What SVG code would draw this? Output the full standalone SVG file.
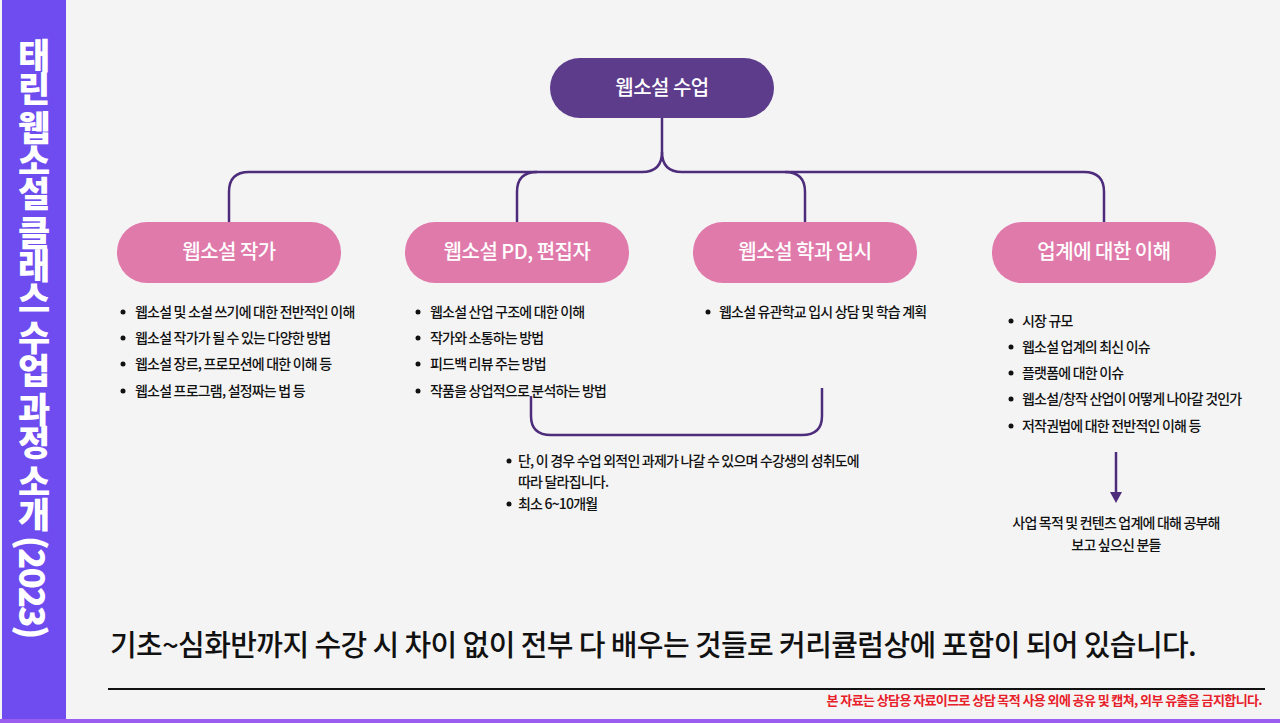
<svg xmlns="http://www.w3.org/2000/svg" width="1280" height="723" viewBox="0 0 1280 723">
<defs>
<style>
text{font-family:"Noto Sans CJK KR","Noto Sans",sans-serif;}
.b{font-size:14px;fill:#111;letter-spacing:-0.8px;font-weight:500;}
.d{fill:#111;}
.nt{font-size:20px;fill:#fff;text-anchor:middle;letter-spacing:-0.5px;font-weight:500;}
.pill{fill:#E07AAB;}
.c{fill:none;stroke:#4E2C7C;stroke-width:2.5;}
</style>
</defs>
<rect width="1280" height="723" fill="#F4F4F4"/>
<g id="sidebar">
<rect x="2" y="0" width="64" height="723" fill="#6E4CF0"/>
<text x="34" y="38" style="writing-mode:vertical-rl;text-orientation:mixed;font-size:35px;font-weight:900;fill:#fff;" letter-spacing="-2">태린 웹소설 클래스 수업 과정 소개 (2023)</text>
</g>
<rect x="0" y="719" width="1280" height="4" fill="#9B5CF0"/>
<g id="connectors">
<path class="c" d="M662,118 V152 Q662,172 642,172 H249 Q229,172 229,192 V222"/>
<path class="c" d="M662,152 Q662,172 682,172 H1084 Q1104,172 1104,192 V222"/>
<path class="c" d="M537,172 Q517,172 517,192 V222"/>
<path class="c" d="M785,172 Q805,172 805,192 V222"/>
<path class="c" d="M531,396 V416 Q531,435 551,435 H802 Q822,435 822,416 V388"/>
<line x1="1116" y1="452" x2="1116" y2="493" stroke="#4E2C7C" stroke-width="2.5"/>
<polygon points="1110,492 1122,492 1116,503" fill="#4E2C7C"/>
</g>
<g id="root">
<rect x="550" y="58" width="224" height="60" rx="30" fill="#5E3C8C"/>
<text class="nt" x="662" y="95">웹소설 수업</text>
</g>
<g id="n1"><rect class="pill" x="117" y="222" width="224" height="61" rx="30"/><text class="nt" x="229" y="259">웹소설 작가</text></g>
<g id="n2"><rect class="pill" x="405" y="222" width="224" height="61" rx="30"/><text class="nt" x="517" y="259">웹소설 PD, 편집자</text></g>
<g id="n3"><rect class="pill" x="693" y="222" width="224" height="61" rx="30"/><text class="nt" x="805" y="259">웹소설 학과 입시</text></g>
<g id="n4"><rect class="pill" x="992" y="222" width="224" height="61" rx="30"/><text class="nt" x="1104" y="259">업계에 대한 이해</text></g>
<g id="list1">
<circle class="d" cx="123" cy="312" r="2.5"/><text class="b" x="135" y="317">웹소설 및 소설 쓰기에 대한 전반적인 이해</text>
<circle class="d" cx="123" cy="338" r="2.5"/><text class="b" x="135" y="343">웹소설 작가가 될 수 있는 다양한 방법</text>
<circle class="d" cx="123" cy="364" r="2.5"/><text class="b" x="135" y="369">웹소설 장르, 프로모션에 대한 이해 등</text>
<circle class="d" cx="123" cy="391" r="2.5"/><text class="b" x="135" y="396">웹소설 프로그램, 설정짜는 법 등</text>
</g>
<g id="list2">
<circle class="d" cx="418" cy="312" r="2.5"/><text class="b" x="430" y="317">웹소설 산업 구조에 대한 이해</text>
<circle class="d" cx="418" cy="338" r="2.5"/><text class="b" x="430" y="343">작가와 소통하는 방법</text>
<circle class="d" cx="418" cy="364" r="2.5"/><text class="b" x="430" y="369">피드백 리뷰 주는 방법</text>
<circle class="d" cx="418" cy="391" r="2.5"/><text class="b" x="430" y="396">작품을 상업적으로 분석하는 방법</text>
</g>
<g id="list3">
<circle class="d" cx="708" cy="312" r="2.5"/><text class="b" x="719" y="317">웹소설 유관학교 입시 상담 및 학습 계획</text>
</g>
<g id="list4">
<circle class="d" cx="1011" cy="321" r="2.5"/><text class="b" x="1022" y="326">시장 규모</text>
<circle class="d" cx="1011" cy="347" r="2.5"/><text class="b" x="1022" y="352">웹소설 업계의 최신 이슈</text>
<circle class="d" cx="1011" cy="373" r="2.5"/><text class="b" x="1022" y="378">플랫폼에 대한 이슈</text>
<circle class="d" cx="1011" cy="399" r="2.5"/><text class="b" x="1022" y="404">웹소설/창작 산업이 어떻게 나아갈 것인가</text>
<circle class="d" cx="1011" cy="426" r="2.5"/><text class="b" x="1022" y="431">저작권법에 대한 전반적인 이해 등</text>
</g>
<g id="note">
<circle class="d" cx="509" cy="461" r="2.5"/><text class="b" x="518" y="466">단, 이 경우 수업 외적인 과제가 나갈 수 있으며 수강생의 성취도에</text>
<text class="b" x="518" y="487">따라 달라집니다.</text>
<circle class="d" cx="509" cy="504" r="2.5"/><text class="b" x="518" y="509">최소 6~10개월</text>
</g>
<g id="target">
<text class="b" x="1116" y="528" text-anchor="middle">사업 목적 및 컨텐츠 업계에 대해 공부해</text>
<text class="b" x="1116" y="550" text-anchor="middle">보고 싶으신 분들</text>
</g>
<text x="110" y="656" style="font-size:29px;fill:#111;font-weight:500;" letter-spacing="-0.6">기초~심화반까지 수강 시 차이 없이 전부 다 배우는 것들로 커리큘럼상에 포함이 되어 있습니다.</text>
<line x1="108" y1="689" x2="1265" y2="689" stroke="#111" stroke-width="2"/>
<text x="1262" y="705" text-anchor="end" style="font-size:13px;font-weight:bold;fill:#E8202A;" letter-spacing="-0.6">본 자료는 상담용 자료이므로 상담 목적 사용 외에 공유 및 캡쳐, 외부 유출을 금지합니다.</text>
</svg>
